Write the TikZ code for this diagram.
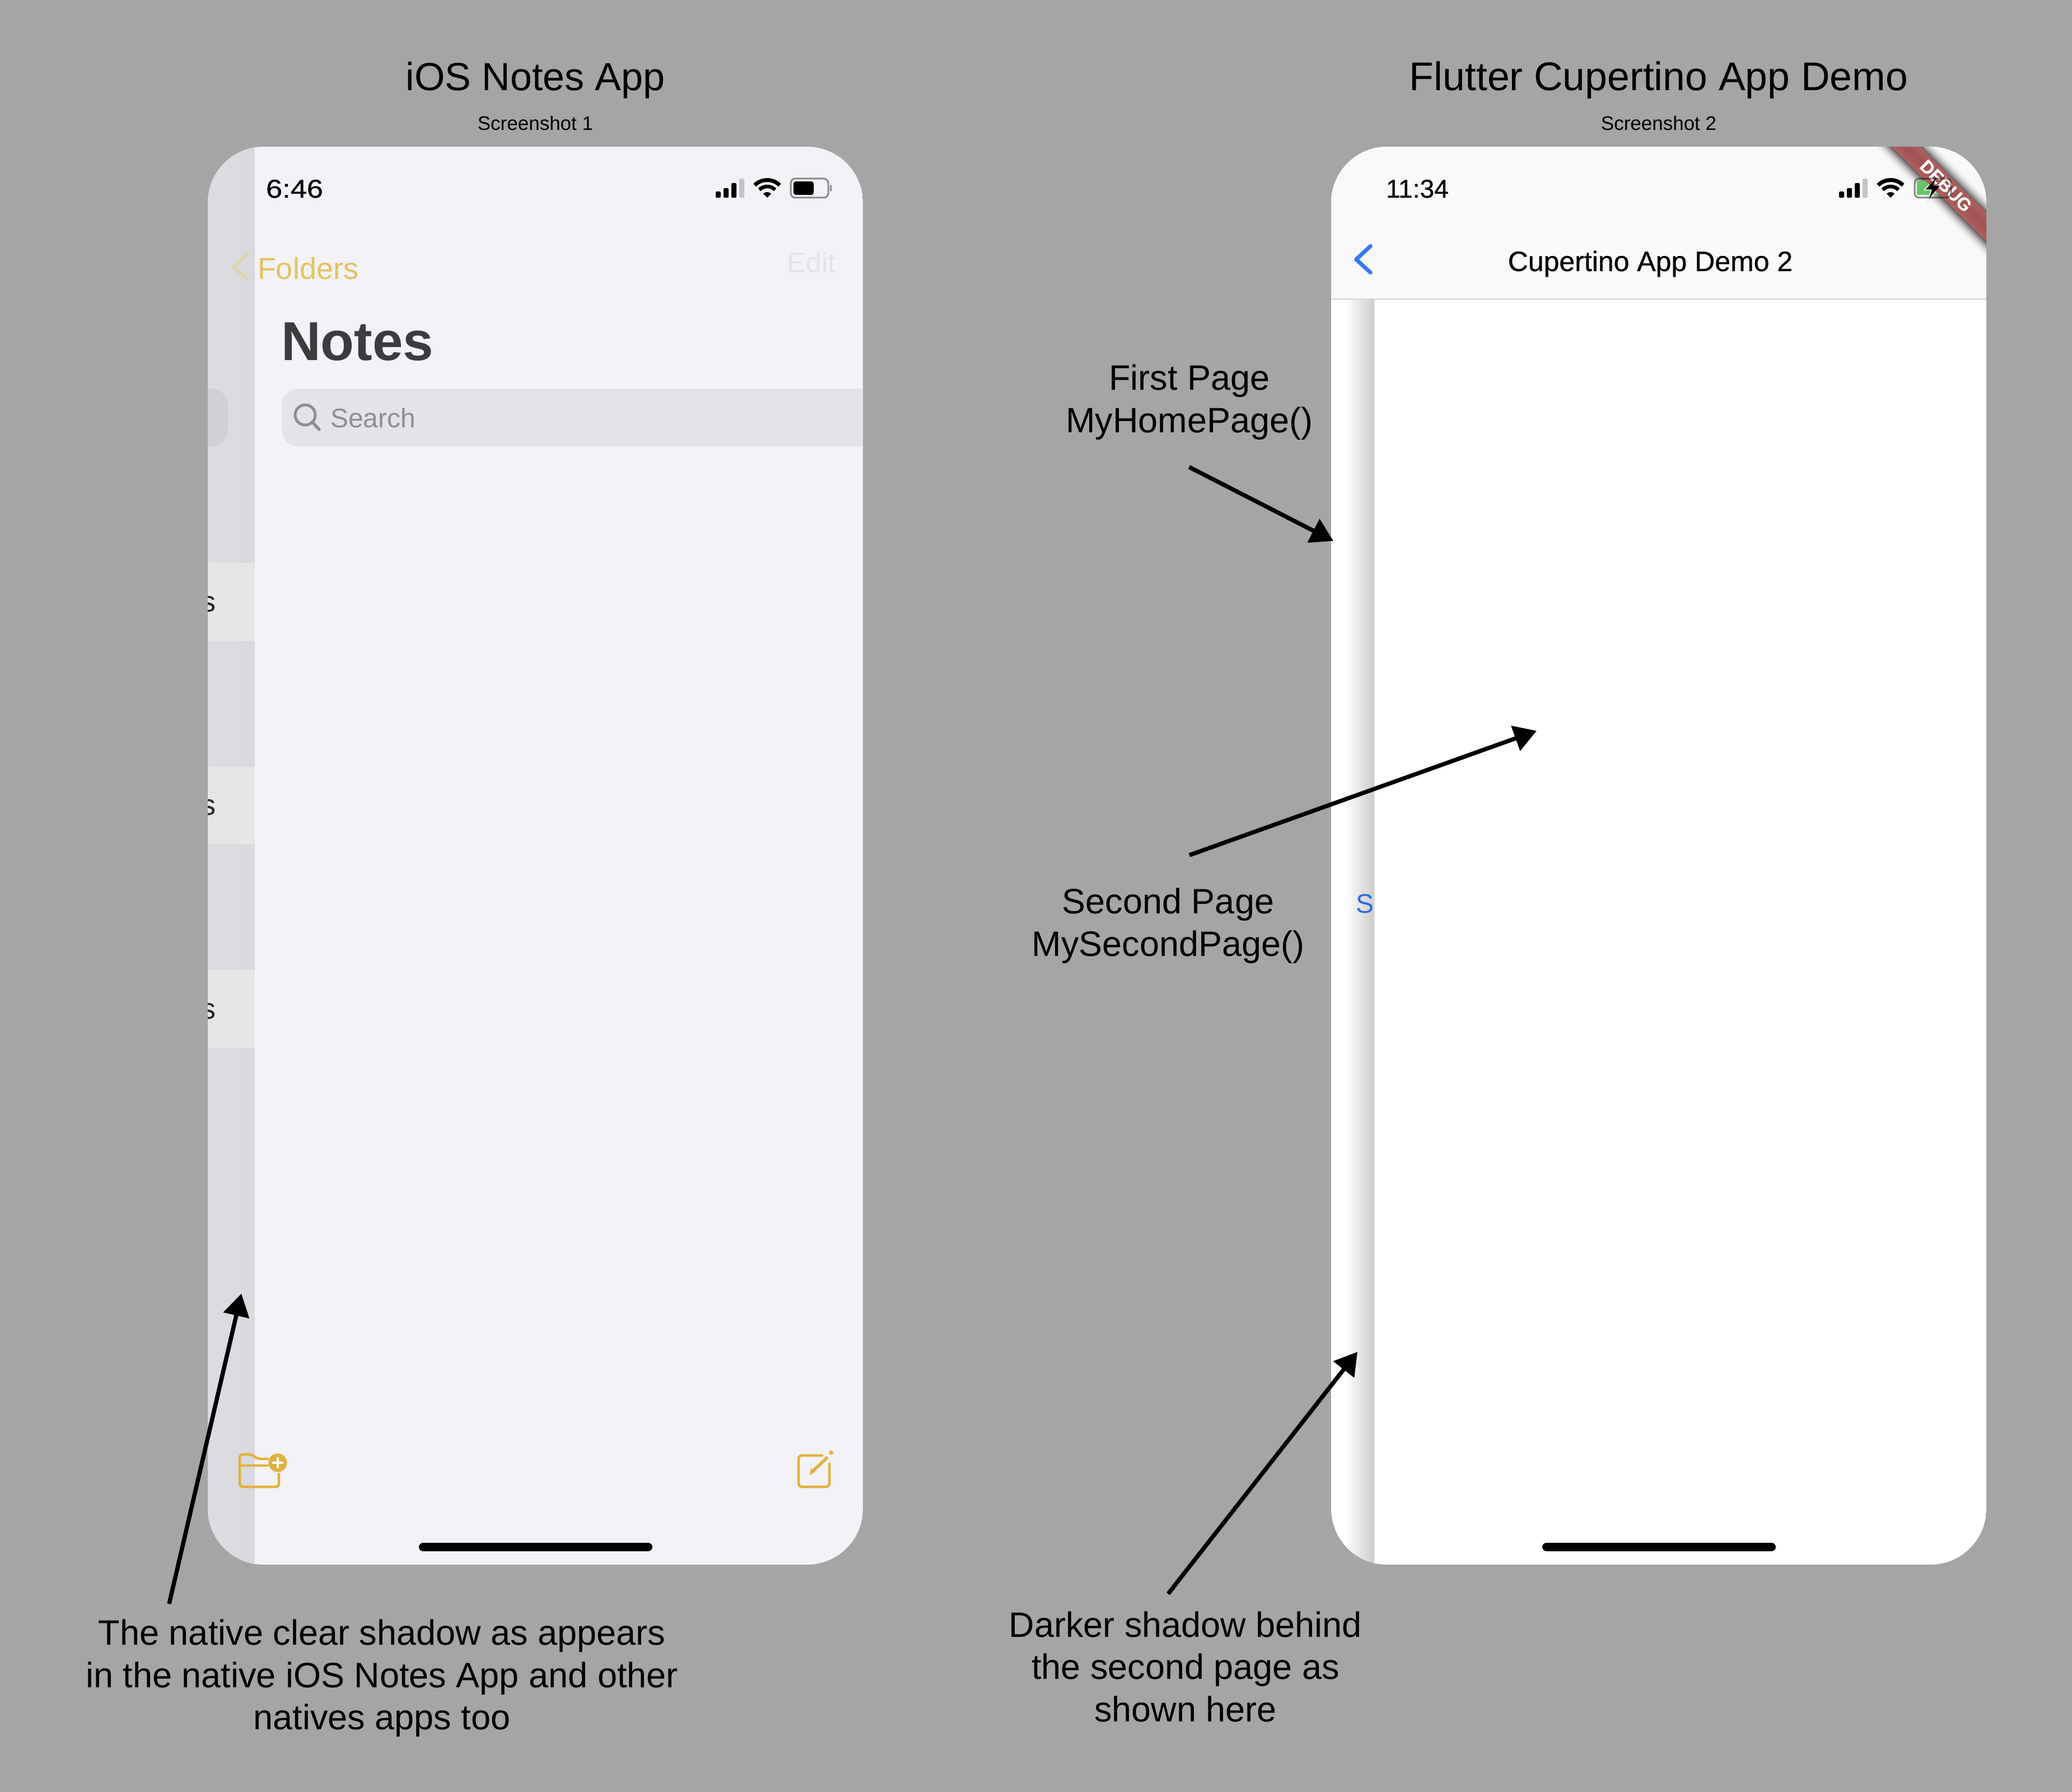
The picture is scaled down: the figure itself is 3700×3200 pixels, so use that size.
\documentclass[tikz,border=0pt]{standalone}
\usepackage{fontspec}
\setmainfont{Liberation Sans}
\newfontfamily\medfont[FakeBold=0.6]{Liberation Sans}
\newfontfamily\timefont[FakeStretch=1.14,FakeBold=0.6]{Liberation Sans}
\newfontfamily\debugfont[FakeBold=0.8]{Liberation Sans Bold}
\usetikzlibrary{arrows.meta}
\definecolor{bgGray}{HTML}{A5A5A5}
\definecolor{iosBg}{HTML}{F2F2F7}
\definecolor{iosStrip}{HTML}{DBDBE0}
\definecolor{iosBand}{HTML}{D9D9DE}
\definecolor{iosRow}{HTML}{E6E6E6}
\definecolor{iosPill}{HTML}{D0D0D5}
\definecolor{iosSearch}{HTML}{E3E3E8}
\definecolor{iosGrey}{HTML}{8E8E93}
\definecolor{iosGold}{HTML}{E0B23C}
\definecolor{iosFolders}{HTML}{E3C35F}
\definecolor{iosChev}{HTML}{E0D4A5}
\definecolor{iosEdit}{HTML}{E3E3E8}
\definecolor{iosNotes}{HTML}{3C3C3F}
\definecolor{navBg}{HTML}{F9F9F9}
\definecolor{navLine}{HTML}{D2D2D2}
\definecolor{flBlue}{HTML}{3478F6}
\definecolor{flGreen}{HTML}{65C466}
\definecolor{ribEdge}{HTML}{AD5B5B}
\definecolor{ribMid}{HTML}{9E4D4D}
\definecolor{barGrey}{HTML}{C4C4C6}
\definecolor{battGrey}{HTML}{8A8A8A}
\definecolor{ribShadow}{HTML}{5A5A5A}
\tikzset{
  lbl/.style={inner sep=0pt,outer sep=0pt},
  title/.style={lbl,anchor=base,font=\fontsize{70}{75}\selectfont},
  subtitle/.style={lbl,anchor=base,font=\fontsize{35}{38}\selectfont},
  note/.style={lbl,align=center,text=black,font=\fontsize{63}{75.5}\selectfont},
  arrowline/.style={draw=black,line width=7.5pt,-{Triangle[length=40pt,width=46pt]}},
  goldline/.style={draw=iosGold,line width=4.5pt,line cap=round,line join=round},
}
\newcommand{\wifiicon}[2]{%
  \begin{scope}[shift={(#1,#2)},x=1pt,y=1pt]
    \fill[black] (0,0) -- (45:10) arc[start angle=45,end angle=135,radius=10] -- cycle;
    \draw[black,line width=6.5pt] (45:20) arc[start angle=45,end angle=135,radius=20];
    \draw[black,line width=7pt] (45:31.5) arc[start angle=45,end angle=135,radius=31.5];
  \end{scope}}
\newcommand{\sigbars}[1]{%
  \begin{scope}[shift={(#1,0)}]
    \fill[black,rounded corners=2pt] (0,342) rectangle (9,353);
    \fill[black,rounded corners=2pt] (14,336) rectangle (23,353);
    \fill[black,rounded corners=2pt] (28,327) rectangle (37,353);
    \fill[barGrey,rounded corners=2pt] (42,319) rectangle (51,353);
  \end{scope}}
\begin{document}
\begin{tikzpicture}[x=1pt,y=-1pt]
\useasboundingbox (0,0) rectangle (3700,3200);
\fill[bgGray] (0,0) rectangle (3700,3200);

% ---------- titles
\node[title] (t1) at (956,162) {iOS Notes App};
\node[subtitle] (s1) at (956,233) {Screenshot 1};
\node[title,font=\fontsize{71.5}{75}\selectfont] (t2) at (2962,162) {Flutter Cupertino App Demo};
\node[subtitle] (s2) at (2962,233) {Screenshot 2};

% ---------- phone 1
\begin{scope}
\clip[rounded corners=100pt] (371,262) rectangle (1541,2794);
\fill[iosBg] (371,262) rectangle (1541,2794);
\fill[iosStrip] (371,262) rectangle (455,2794);
\fill[iosBand] (428,262) rectangle (455,2794);
\fill[iosPill,rounded corners=30pt] (300,694) rectangle (407,797);
\fill[iosRow] (371,1005) rectangle (455,1145);
\fill[iosRow] (371,1369) rectangle (455,1508);
\fill[iosRow] (371,1732) rectangle (455,1871);
\node[lbl,anchor=base west,font=\fontsize{52}{56}\selectfont,text=black!85] (r1) at (359,1092) {s};
\node[lbl,anchor=base west,font=\fontsize{52}{56}\selectfont,text=black!85] (r2) at (359,1455.5) {s};
\node[lbl,anchor=base west,font=\fontsize{52}{56}\selectfont,text=black!85] (r3) at (359,1819) {s};
\fill[iosSearch,rounded corners=30pt] (503,694) rectangle (1700,797);
\end{scope}

\node[lbl,anchor=base west,font=\timefont\fontsize{46}{50}\selectfont] (time1) at (475,353) {6:46};
\sigbars{1278}
\wifiicon{1370}{353}
\draw[battGrey,line width=3pt,rounded corners=8pt] (1412,319) rectangle (1479,353);
\fill[black,rounded corners=4pt] (1417,324) rectangle (1453,348);
\fill[battGrey,rounded corners=1.5pt] (1482,330) rectangle (1485,342);

\draw[iosChev,line width=5pt,line cap=round,line join=round] (442,454) -- (417,477) -- (442,500);
\node[lbl,anchor=base west,text=iosFolders,font=\fontsize{54}{56}\selectfont] (fold) at (460,498) {Folders};
\node[lbl,anchor=base east,text=iosEdit,font=\fontsize{50}{54}\selectfont] (edit) at (1492,486) {Edit};
\node[lbl,anchor=base west,text=iosNotes,font=\bfseries\fontsize{98}{100}\selectfont] (notes) at (502,643) {Notes};
\draw[iosGrey,line width=5pt] (545,741) circle[radius=18];
\draw[iosGrey,line width=5.5pt,line cap=round] (558,754) -- (570,767);
\node[lbl,anchor=base west,text=iosGrey,font=\fontsize{48}{52}\selectfont] (search) at (590,763) {Search};

% folder icon
\draw[goldline,rounded corners=6pt] (498,2632) -- (498,2655) -- (428,2655) -- (428,2597) -- (450,2597) -- (459,2605) -- (478,2605);
\draw[goldline] (428,2617) -- (478,2617);
\fill[iosGold] (496,2612) circle[radius=16.5];
\draw[white,line width=3.5pt] (486,2612) -- (506,2612) (496,2602) -- (496,2622);
% compose icon
\draw[goldline,rounded corners=6pt] (1468,2599) -- (1426,2599) -- (1426,2655) -- (1481,2655) -- (1481,2614);
\draw[iosGold,line width=5.5pt] (1449,2629) -- (1478,2602);
\fill[iosGold] (1446,2634) -- (1448,2622) -- (1456,2628) -- cycle;
\fill[iosGold] (1484,2594) circle[radius=4];
% home bar
\fill[black,rounded corners=7.5pt] (748,2755) rectangle (1165,2770);

% ---------- phone 2
\begin{scope}
\clip[rounded corners=100pt] (2377,262) rectangle (3547,2794);
\fill[white] (2377,262) rectangle (3547,2794);
\fill[navBg] (2377,262) rectangle (3547,534);
\shade[left color=white,middle color=black!5,right color=black!20] (2402,535) rectangle (2454,2794);
\draw[navLine,line width=2pt] (2377,534) -- (3547,534);
% ribbon shadow, drawn as strips because a shading does not turn with the ribbon
\begin{scope}[shift={(3475,334)},rotate=-45,x=1pt,y=1pt]
  \foreach \d in {0,...,21}{
    \pgfmathsetmacro{\mixv}{100*(1-(1-\d/22)*(1-\d/22))}
    \fill[color=navBg!\mixv!ribShadow] (-260,18+\d) rectangle (260,19.2+\d);
    \fill[color=navBg!\mixv!ribShadow] (-260,-18-\d) rectangle (260,-19.2-\d);
  }
\end{scope}
\fill[flGreen,rounded corners=3pt] (3423,323) rectangle (3463,348);
\fill[flGreen!20!navBg,draw=flGreen!20!navBg,line width=4pt] (3456.7,318.3) -- (3438.7,338.3) -- (3450,338.3) -- (3445,354) -- (3464,331.7) -- (3451.7,331.7) -- cycle;
\begin{scope}[shift={(3475,334)},rotate=-45,x=1pt,y=1pt]
  \foreach \d in {0,...,17}{
    \pgfmathsetmacro{\mixv}{100*\d/17}
    \fill[color=ribEdge!\mixv!ribMid] (-260,\d) rectangle (260,\d+1.2);
    \fill[color=ribEdge!\mixv!ribMid] (-260,-\d) rectangle (260,-\d-1.2);
  }
\end{scope}
\node[lbl,rotate=-45,text=white,font=\debugfont\fontsize{32}{34}\selectfont] (dbg) at (3475,332) {DEBUG};
\draw[black,opacity=.45,line width=3pt,rounded corners=8pt] (3419,319) rectangle (3484,353);
\fill[black] (3456.7,318.3) -- (3438.7,338.3) -- (3450,338.3) -- (3445,354) -- (3464,331.7) -- (3451.7,331.7) -- cycle;
\end{scope}

\node[lbl,anchor=base west,font=\medfont\fontsize{46}{50}\selectfont] (time2) at (2475,353) {11:34};
\sigbars{3284}
\wifiicon{3376}{353}
\draw[flBlue,line width=7pt,line cap=round,line join=round] (2447.3,439.3) -- (2421.7,463.3) -- (2447.3,486.7);
\node[lbl,anchor=base,font=\medfont\fontsize{50}{52}\selectfont] (navt) at (2947,484) {Cupertino App Demo 2};
\node[lbl,anchor=base,text=flBlue!90!black,font=\fontsize{48}{52}\selectfont] (sblue) at (2437.5,1630) {S};
\fill[black,rounded corners=7.5pt] (2754,2755) rectangle (3171,2770);

% ---------- annotations
\node[note] (n1) at (682,2997) {The native clear shadow as appears\\in the native iOS Notes App and other\\natives apps too};
\node[note] (n2) at (2124,718) {First Page\\MyHomePage()};
\node[note] (n3) at (2086,1653) {Second Page\\MySecondPage()};
\node[note] (n4) at (2117,2976) {Darker shadow behind\\the second page as\\shown here};

\coordinate (a1s) at (2123.5,834);  \coordinate (a1t) at (2381,966);
\coordinate (a2s) at (2124,1527);   \coordinate (a2t) at (2744,1305);
\coordinate (a3s) at (302,2864);    \coordinate (a3t) at (431,2310);
\coordinate (a4s) at (2086,2846);   \coordinate (a4t) at (2424,2414);
\draw[arrowline] (a1s) -- (a1t);
\draw[arrowline] (a2s) -- (a2t);
\draw[arrowline] (a3s) -- (a3t);
\draw[arrowline] (a4s) -- (a4t);
\end{tikzpicture}
\end{document}
